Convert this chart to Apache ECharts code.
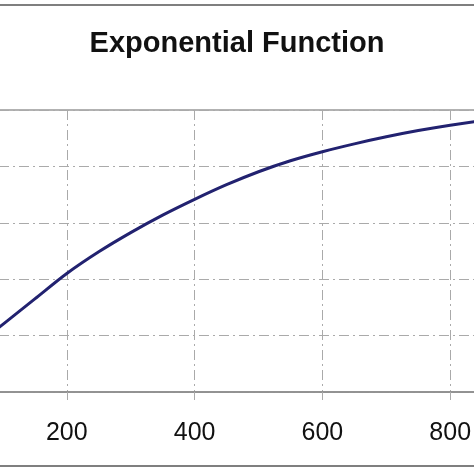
<!DOCTYPE html>
<html>
<head>
<meta charset="utf-8">
<script src="https://cdn.jsdelivr.net/npm/echarts@6/dist/echarts.min.js"></script>
<style>html,body{margin:0;padding:0;background:#fff;}#c{width:474px;height:474px;}</style>
</head>
<body>
<div id="c"></div>
<script>
var titleText = 'Exponential Function';
var xValues = [50, 100, 150, 200, 250, 300, 350, 400, 450, 500, 550, 600, 650, 700, 750, 800, 850, 900];
var yValues = [0.150, 0.240, 0.330, 0.420, 0.497, 0.565, 0.627, 0.683, 0.735, 0.781, 0.820, 0.852, 0.880, 0.905, 0.927, 0.946, 0.962, 0.975];
var xTicks = [0, 200, 400, 600, 800, 1000];

var chart = echarts.init(document.getElementById('c'));
var dash = [10, 4, 2, 4];
chart.setOption({
  animation: false,
  backgroundColor: '#fff',
  title: {
    text: titleText,
    left: 'center',
    top: 24,
    textStyle: { fontFamily: 'Liberation Sans, Arial, sans-serif', fontWeight: 'bold', fontSize: 29, color: '#111' }
  },
  graphic: [{
    type: 'rect',
    shape: { x: -10, y: 5, width: 494, height: 461 },
    style: { fill: 'none', stroke: '#555', lineWidth: 1.5 },
    silent: true, z: -1
  }],
  grid: {
    left: -61, right: -104, top: 110, bottom: 82,
    outerBoundsMode: 'none',
    containLabel: false,
    show: true, borderColor: '#999', borderWidth: 1.5, backgroundColor: 'transparent'
  },
  xAxis: {
    type: 'value', min: 0, max: 1000, interval: 200,
    axisLine: { show: true, onZero: false, lineStyle: { color: '#888', width: 1.5 } },
    axisTick: { show: true, length: 8, lineStyle: { color: '#aaa' } },
    axisLabel: {
      margin: 29, fontSize: 25, color: '#111', fontFamily: 'Liberation Sans, Arial, sans-serif',
      formatter: function (v) { return xTicks.indexOf(v) >= 0 ? String(v) : ''; }
    },
    splitLine: { show: true, lineStyle: { color: '#aaa', width: 1, type: dash } }
  },
  yAxis: {
    type: 'value', min: 0, max: 1, interval: 0.2,
    axisLine: { show: false },
    axisTick: { show: false },
    axisLabel: { show: false },
    splitLine: { show: true, lineStyle: { color: '#aaa', width: 1, type: dash } }
  },
  series: [{
    type: 'line',
    data: xValues.map(function (x, i) { return [x, yValues[i]]; }),
    smooth: 0.3,
    showSymbol: false,
    lineStyle: { color: '#222270', width: 3 }
  }]
});
</script>
</body>
</html>
